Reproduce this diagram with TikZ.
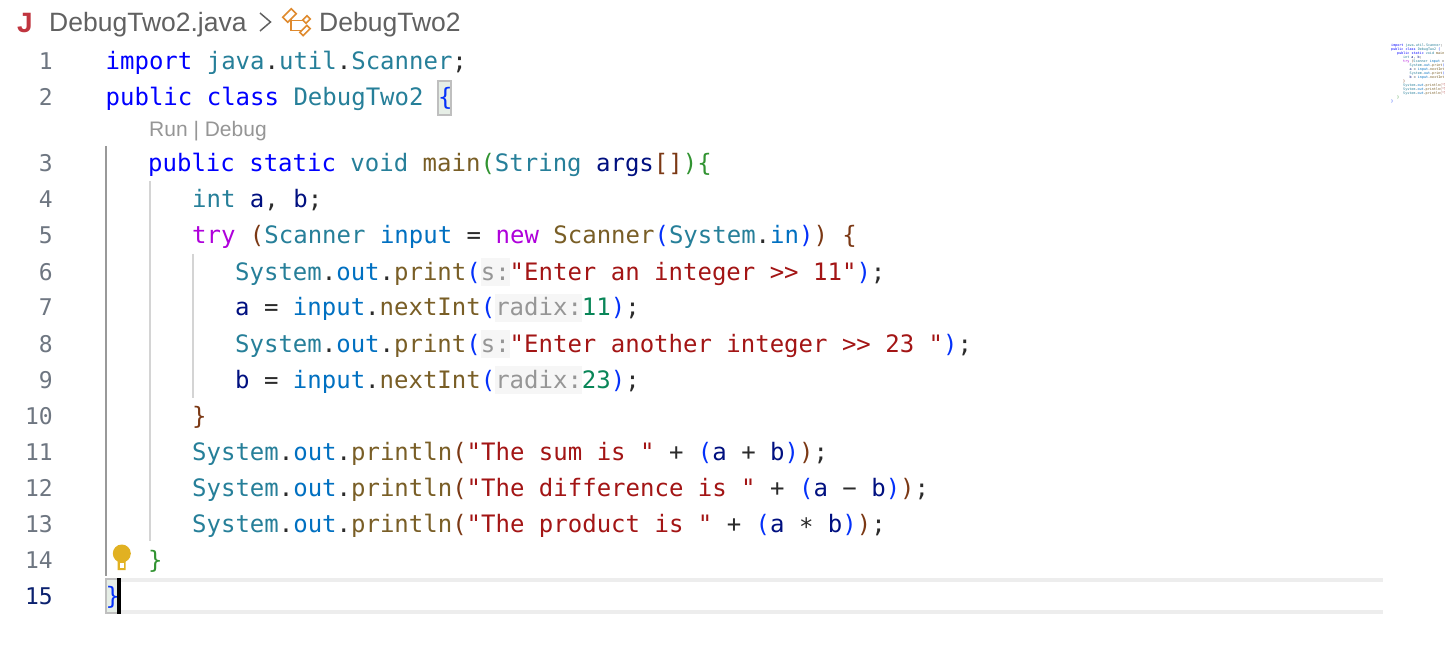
\documentclass[tikz,border=0pt]{standalone}
\usepackage{fontspec}
\setmainfont{Liberation Sans}
\setmonofont{DejaVu Sans Mono}
\usepackage{tikz}
\usetikzlibrary{positioning}

\definecolor{kwblue}{HTML}{0000FF}
\definecolor{tyteal}{HTML}{267F99}
\definecolor{vrnavy}{HTML}{001080}
\definecolor{mbblue}{HTML}{0070C1}
\definecolor{fnbrown}{HTML}{795E26}
\definecolor{strred}{HTML}{A31515}
\definecolor{numgreen}{HTML}{098658}
\definecolor{ctpurple}{HTML}{AF00DB}
\definecolor{brone}{HTML}{0431FA}
\definecolor{brtwo}{HTML}{319331}
\definecolor{brthree}{HTML}{7B3814}
\definecolor{hintgray}{HTML}{969696}
\definecolor{hintback}{HTML}{F6F6F6}
\definecolor{plaintext}{HTML}{2B2B2B}
\definecolor{numgray}{HTML}{6E7681}
\definecolor{numactive}{HTML}{0B216F}
\definecolor{crumbgray}{HTML}{616161}
\definecolor{iconorange}{HTML}{DF8A2E}
\definecolor{bulbgold}{HTML}{E1B122}
\definecolor{javared}{HTML}{C0353F}
\definecolor{matchback}{HTML}{E6EEE6}

\newcommand{\kw}[1]{\textcolor{kwblue}{#1}}
\newcommand{\ty}[1]{\textcolor{tyteal}{#1}}
\newcommand{\vr}[1]{\textcolor{vrnavy}{#1}}
\newcommand{\mb}[1]{\textcolor{mbblue}{#1}}
\newcommand{\fn}[1]{\textcolor{fnbrown}{#1}}
\newcommand{\str}[1]{\textcolor{strred}{#1}}
\newcommand{\nm}[1]{\textcolor{numgreen}{#1}}
\newcommand{\ct}[1]{\textcolor{ctpurple}{#1}}
\newcommand{\bra}[1]{\textcolor{brone}{#1}}
\newcommand{\brb}[1]{\textcolor{brtwo}{#1}}
\newcommand{\brc}[1]{\textcolor{brthree}{#1}}
\newcommand{\hint}[1]{\textcolor{hintgray}{#1}}

\begin{document}
\begin{tikzpicture}[
        x=1pt, y=-1pt,
        codeline/.style={anchor=base west, inner sep=0pt, text=plaintext, font=\ttfamily\fontsize{24}{28}\selectfont},
        lineno/.style={anchor=base east, inner sep=0pt, text=numgray, font=\ttfamily\fontsize{23}{28}\selectfont},
        crumb/.style={anchor=base west, inner sep=0pt, text=crumbgray, font=\fontsize{26.5}{30}\selectfont},
        minicode/.style={anchor=base west, inner sep=0pt, text=plaintext, font=\ttfamily\fontsize{3.4}{4}\selectfont},
        classbox/.style={draw=iconorange, line width=1.6pt, inner sep=0pt, rotate=45},
        iconline/.style={draw=iconorange, line width=1.6pt},
        hintbox/.style={fill=hintback},
        matchbox/.style={fill=matchback, draw=black!25, line width=1.6pt},
        rowline/.style={fill=black!7}
    ]
    \useasboundingbox[fill=white] (0,0) rectangle (1445,652);

    % breadcrumb
    \node[anchor=base west, inner sep=0pt, text=javared, font=\bfseries\fontsize{28}{30}\selectfont] (javaicon) at (17,33) {J};
    \node[crumb] (filename) at (49,32) {DebugTwo2.java};
    \coordinate (chevtop) at (260,13);
    \coordinate (chevtip) at (270.5,22);
    \coordinate (chevlow) at (260,31);
    \draw[crumbgray, line width=1.5pt] (chevtop) -- (chevtip) -- (chevlow);
    \coordinate (trunktop) at (291,19);
    \draw[iconline] (trunktop) |- (306,20.5);
    \draw[iconline] (trunktop) |- (305,30.5);
    \node[classbox, fill=white, minimum width=12pt, minimum height=7pt] (classtop) at (289.5,15.5) {};
    \node[classbox, fill=white, minimum width=6pt, minimum height=4.5pt] (classmid) at (306.5,19.5) {};
    \node[classbox, fill=white, minimum width=10pt, minimum height=4.5pt] (classlow) at (305,30.5) {};
    \node[crumb] (classname) at (319,32) {DebugTwo2};

    % active row, guides and bracket boxes
    \fill[rowline] (106,578) rectangle (1383,582);
    \fill[rowline] (106,610) rectangle (1383,614);
    \draw[black!40, line width=2.2pt] (106,146) -- (106,576);
    \draw[black!17, line width=2pt] (149.5,181) -- (149.5,541);
    \draw[black!17, line width=2pt] (193,254) -- (193,398);
    \draw[matchbox] (438,81) rectangle (451,115);
    \draw[matchbox] (106,579) rectangle (118,613);

    % inlay hint backgrounds
    \fill[hintbox] (481,258) rectangle (510,286);
    \fill[hintbox] (495,294) rectangle (582,322);
    \fill[hintbox] (481,330) rectangle (510,358);
    \fill[hintbox] (495,366) rectangle (582,394);

    % line numbers
    \node[lineno] (num1) at (53,70) {1};
    \node[lineno] (num2) at (53,106) {2};
    \node[lineno] (num3) at (53,172) {3};
    \node[lineno] (num4) at (53,208) {4};
    \node[lineno] (num5) at (53,244) {5};
    \node[lineno] (num6) at (53,280) {6};
    \node[lineno] (num7) at (53,316) {7};
    \node[lineno] (num8) at (53,352) {8};
    \node[lineno] (num9) at (53,388) {9};
    \node[lineno] (num10) at (53,424) {10};
    \node[lineno] (num11) at (53,460) {11};
    \node[lineno] (num12) at (53,496) {12};
    \node[lineno] (num13) at (53,532) {13};
    \node[lineno] (num14) at (53,568) {14};
    \node[lineno, text=numactive] (num15) at (53,604) {15};

    % code
    \node[codeline] (code1) at (105.5,70) {\kw{import} \ty{java}.\ty{util}.\ty{Scanner};};
    \node[codeline] (code2) at (105.5,106) {\kw{public} \kw{class} \ty{DebugTwo2} \bra{\{}};
    \node[anchor=base west, inner sep=0pt, text=hintgray, font=\fontsize{21}{24}\selectfont] (codelens) at (149,137) {Run | Debug};
    \node[codeline] (code3) at (148,172) {\kw{public} \kw{static} \ty{void} \fn{main}\brb{(}\ty{String} \vr{args}\brc{[]}\brb{)\{}};
    \node[codeline] (code4) at (192,208) {\ty{int} \vr{a}, \vr{b};};
    \node[codeline] (code5) at (192,244) {\ct{try} \brc{(}\ty{Scanner} \mb{input} = \ct{new} \fn{Scanner}\bra{(}\ty{System}.\mb{in}\bra{)}\brc{) \{}};
    \node[codeline] (code6) at (235,280) {\ty{System}.\mb{out}.\fn{print}\bra{(}\hint{s:}\str{"Enter an integer >> 11"}\bra{)};};
    \node[codeline] (code7) at (235,316) {\vr{a} = \mb{input}.\fn{nextInt}\bra{(}\hint{radix:}\nm{11}\bra{)};};
    \node[codeline] (code8) at (235,352) {\ty{System}.\mb{out}.\fn{print}\bra{(}\hint{s:}\str{"Enter another integer >> 23 "}\bra{)};};
    \node[codeline] (code9) at (235,388) {\vr{b} = \mb{input}.\fn{nextInt}\bra{(}\hint{radix:}\nm{23}\bra{)};};
    \node[codeline] (code10) at (192,424) {\brc{\}}};
    \node[codeline] (code11) at (192,460) {\ty{System}.\mb{out}.\fn{println}\brc{(}\str{"The sum is "} + \bra{(}\vr{a} + \vr{b}\bra{)}\brc{)};};
    \node[codeline] (code12) at (192,496) {\ty{System}.\mb{out}.\fn{println}\brc{(}\str{"The difference is "} + \bra{(}\vr{a} − \vr{b}\bra{)}\brc{)};};
    \node[codeline] (code13) at (192,532) {\ty{System}.\mb{out}.\fn{println}\brc{(}\str{"The product is "} + \bra{(}\vr{a} \raisebox{-3pt}{*} \vr{b}\bra{)}\brc{)};};
    \node[codeline] (code14) at (148,568) {\brb{\}}};
    \node[codeline] (code15) at (105.5,604) {\bra{\}}};

    % cursor
    \fill[black] (117,578) rectangle (121,614);

    % lightbulb
    \fill[bulbgold] (117.7,570) -- (117.7,561) -- (114.5,557) -- (122,553) -- (129,557) -- (125.7,561) -- (125.7,570) -- cycle;
    \fill[bulbgold] (121.8,553.5) circle (9);
    \fill[white] (119.7,563) rectangle (124,568.3);

    % minimap
    \node[minicode] (mini1) at (1391,46.7) {\kw{import} \ty{java}.\ty{util}.\ty{Scanner};};
    \node[minicode] (mini2) at (1391,50.7) {\kw{public} \kw{class} \ty{DebugTwo2} \bra{\{}};
    \node[minicode] (mini3) at (1397,54.7) {\kw{public} \kw{static} \ty{void} \fn{main}};
    \node[minicode] (mini4) at (1403,58.7) {\ty{int} \vr{a}, \vr{b};};
    \node[minicode] (mini5) at (1403,62.6) {\ct{try} \brc{(}\ty{Scanner} \mb{input} =};
    \node[minicode] (mini6) at (1409.5,66.6) {\ty{System}.\mb{out}.\fn{print}\bra{(}};
    \node[minicode] (mini7) at (1409.5,70.5) {\vr{a} = \mb{input}.\fn{nextInt}\bra{(}};
    \node[minicode] (mini8) at (1409.5,74.5) {\ty{System}.\mb{out}.\fn{print}\bra{(}};
    \node[minicode] (mini9) at (1409.5,78.5) {\vr{b} = \mb{input}.\fn{nextInt}\bra{(}};
    \node[minicode] (mini10) at (1403,82.4) {\brc{\}}};
    \node[minicode] (mini11) at (1403,86.4) {\ty{System}.\mb{out}.\fn{println}\brc{(}\str{"T}};
    \node[minicode] (mini12) at (1403,90.3) {\ty{System}.\mb{out}.\fn{println}\brc{(}\str{"T}};
    \node[minicode] (mini13) at (1403,94.3) {\ty{System}.\mb{out}.\fn{println}\brc{(}\str{"T}};
    \node[minicode] (mini14) at (1397,98.3) {\brb{\}}};
    \node[minicode] (mini15) at (1391,102.2) {\bra{\}}};
\end{tikzpicture}
\end{document}
